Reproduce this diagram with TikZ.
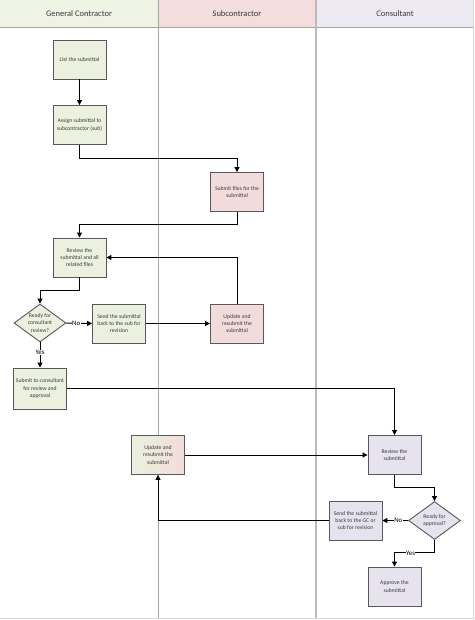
\documentclass[tikz,border=0pt]{standalone}
\usepackage{fontspec}
\setmainfont{Carlito}
\usetikzlibrary{arrows.meta,shapes.geometric,calc}
\definecolor{gcfill}{HTML}{EBF1DE}
\definecolor{subfill}{HTML}{F2DCDB}
\definecolor{consfill}{HTML}{E6E3EE}
\definecolor{gchead}{HTML}{EEF3E4}
\definecolor{subhead}{HTML}{F4DEDD}
\definecolor{conshead}{HTML}{EDEAF3}
\definecolor{boxline}{HTML}{595959}
\definecolor{txt}{HTML}{3A3A3A}
\tikzset{
  box/.style={draw=boxline, line width=0.9pt, minimum width=53pt, minimum height=39pt,
    inner sep=1pt, align=center, font=\fontsize{5.7}{7.3}\selectfont, text=txt},
  gcbox/.style={box, fill=gcfill},
  subbox/.style={box, fill=subfill},
  consbox/.style={box, fill=consfill},
  dec/.style={draw=boxline, line width=0.9pt, diamond, aspect=1.37, minimum width=52pt,
    minimum height=38pt, inner sep=0pt, align=center,
    font=\fontsize{5.7}{7.3}\selectfont, text=txt},
  conn/.style={draw=black, line width=1pt, -{Triangle[length=5pt,width=5pt]}},
  lbl/.style={fill=white, inner sep=0.5pt, font=\fontsize{6.8}{7}\selectfont, text=black},
  head/.style={font=\fontsize{8.5}{10}\selectfont, text=txt},
}
\begin{document}
\begin{tikzpicture}[x=1pt,y=-1pt]
\useasboundingbox (0,0) rectangle (474,620);
% headers
\fill[gchead] (0,0) rectangle (158,27);
\fill[subhead] (158,0) rectangle (316,27);
\fill[conshead] (316,0) rectangle (474,27);
\draw[gray!70, line width=0.8pt] (0,27) -- (474,27);
\node[head] (hgc) at (79,13.5) {General Contractor};
\node[head] (hsub) at (237,13.5) {Subcontractor};
\node[head] (hcons) at (395,13.5) {Consultant};
% lane lines
\draw[gray!70, line width=0.7pt] (158,0) -- (158,618);
\draw[gray!55, line width=1.4pt] (316,0) -- (316,618);
\draw[gray!30, line width=1pt] (0,618) -- (474,618);
\draw[gray!30, line width=0.8pt] (473.5,0) -- (473.5,618);
% nodes
\node[gcbox] (list) at (79.5,59.5) {List the submittal};
\node[gcbox] (assign) at (79.5,125) {Assign submittal to\\subcontractor (sub)};
\node[subbox] (files) at (237,192) {Submit files for the\\submittal};
\node[gcbox] (review) at (79.5,257.5) {Review the\\submittal and all\\related files};
\node[dec, fill=gcfill] (ready) at (40,323) {Ready for\\consultant\\review?};
\node[gcbox] (send1) at (119,323.5) {Send the submittal\\back to the sub for\\revision};
\node[subbox] (upd1) at (237,323.5) {Update and\\resubmit the\\submittal};
\node[gcbox, minimum height=41pt] (tocons) at (40,388.5) {Submit to consultant\\for review and\\approval};
\node[box, left color=gcfill, right color=subfill] (upd2) at (158,455) {Update and\\resubmit the\\submittal};
\node[consbox] (revc) at (394.5,455) {Review the\\submittal};
\node[dec, fill=consfill] (appr) at (434.5,520.5) {Ready for\\approval?};
\node[consbox] (send2) at (355.5,520.5) {Send the submittal\\back to the GC or\\sub for revision};
\node[consbox] (approve) at (394.5,586.5) {Approve the\\submittal};
% connectors
\draw[conn] (list) -- (assign);
\draw[conn] (assign.south) -- ++(0,13.5) -| (files.north);
\draw[conn] (files.south) -- ++(0,13) -| (review.north);
\draw[conn] (upd1.north) |- (review.east);
\draw[conn] (review.south) -- ++(0,13.5) -| (ready.north);
\draw[conn] (ready.east) -- node[lbl, pos=0.38] (no1) {No} (send1.west);
\draw[conn] (send1.east) -- (upd1.west);
\draw[conn] (ready.south) -- node[lbl, pos=0.4] (yes1) {Yes} (tocons.north);
\draw[conn] (tocons.east) -| (revc.north);
\draw[conn] (upd2.east) -- (revc.west);
\draw[conn] (revc.south) -- ++(0,13) -| (appr.north);
\draw[conn] (appr.west) -- node[lbl, pos=0.38] (no2) {No} (send2.east);
\draw[conn] (send2.west) -| (upd2.south);
\draw[conn] (appr.south) -- ++(0,13) -| node[lbl, pos=0.3] (yes2) {Yes} (approve.north);
\end{tikzpicture}
\end{document}
